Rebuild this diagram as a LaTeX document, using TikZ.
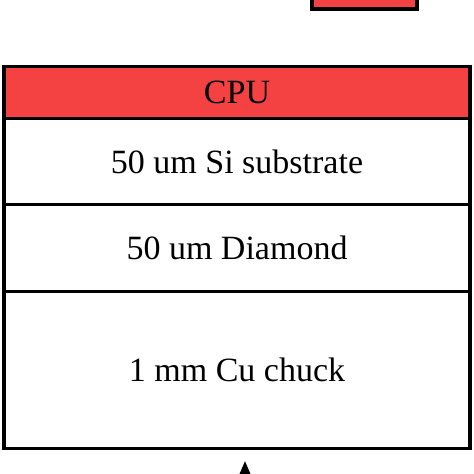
\documentclass[tikz,border=0pt]{standalone}
\usepackage{fontspec}
\setmainfont{Liberation Serif}
\usetikzlibrary{arrows.meta}
\definecolor{cpured}{HTML}{F44242}
\tikzset{
  layer/.style={draw=black, line width=3.4pt, minimum width=466pt, inner sep=0pt, font=\fontsize{34}{40}\selectfont, anchor=north},
}
\begin{document}
\begin{tikzpicture}[x=1pt,y=1pt]
\useasboundingbox (0,0) rectangle (474,-474);
\fill[white] (0,0) rectangle (474,-474);
% partial legend box at top
\draw[line width=3.4pt, fill=cpured] (312,4) rectangle (417,-9);
% layers
\node[layer, fill=cpured, minimum height=52pt] (cpu) at (237,-65) {CPU};
\node[layer, fill=white, minimum height=86pt] (si) at (237,-117) {50 um Si substrate};
\node[layer, fill=white, minimum height=87pt] (dia) at (237,-203) {50 um Diamond};
\node[layer, fill=white, minimum height=157pt] (cu) at (237,-290) {1 mm Cu chuck};
% partial arrow at bottom
\coordinate (arrowtail) at (245,-500);
\coordinate (arrowtip) at (245,-461);
\draw[line width=2.5pt, -{Triangle[length=15pt,width=12pt]}] (arrowtail) -- (arrowtip);
\end{tikzpicture}
\end{document}
